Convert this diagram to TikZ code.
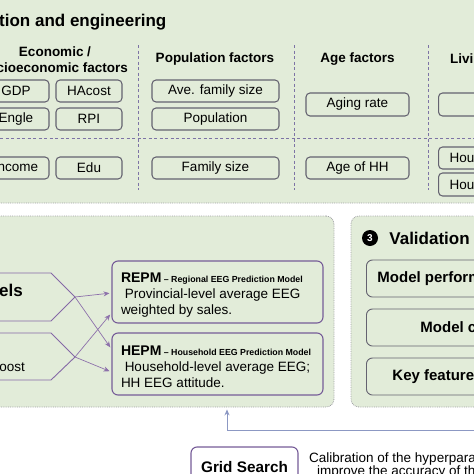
\documentclass[tikz,border=0pt]{standalone}
\usepackage{fontspec}
\setmainfont{Liberation Sans}
\usepackage{tikz}
\usetikzlibrary{arrows.meta, positioning, calc}
\definecolor{PanelGreen}{RGB}{226,236,217}
\definecolor{PanelEdge}{RGB}{160,160,165}
\definecolor{BoxEdge}{RGB}{100,98,112}
\definecolor{GridLine}{RGB}{125,115,165}
\definecolor{ModelEdge}{RGB}{118,92,152}
\definecolor{FlowPurple}{RGB}{112,78,150}
\definecolor{CalibBlue}{RGB}{140,152,195}
\newcommand{\ftitle}{\bfseries\fontsize{17}{20}\selectfont}
\newcommand{\fhead}{\bfseries\fontsize{13.5}{16}\selectfont}
\newcommand{\fplain}{\fontsize{13.5}{16}\selectfont}

\begin{document}
\begin{tikzpicture}[x=1pt, y=-1pt,
    panel/.style={draw=PanelEdge, densely dotted, line width=0.8pt, rounded corners=8pt, fill=PanelGreen},
    txt/.style={inner sep=0pt, font=\fplain},
    featbox/.style={draw=BoxEdge, line width=1.05pt, rounded corners=4pt, fill=PanelGreen, minimum height=22pt, inner sep=0pt, font=\fplain},
    griddash/.style={draw=GridLine, dashed, dash pattern=on 3pt off 2.5pt, line width=0.8pt},
    modelbox/.style={draw=ModelEdge, line width=1.1pt, rounded corners=6pt, fill=PanelGreen, minimum width=211pt, minimum height=62pt, inner xsep=9pt, text width=193pt, align=flush left, font=\fplain},
    valbox/.style={draw=BoxEdge, line width=0.9pt, rounded corners=6pt, fill=PanelGreen, minimum height=37pt, inner sep=0pt, text width=170pt, align=flush left, anchor=west, font=\bfseries\fontsize{15}{18}\selectfont},
    chevron/.style={draw=FlowPurple!85, line width=0.9pt},
    flow/.style={draw=FlowPurple!80, line width=0.7pt, -{Stealth[length=6pt, width=5pt]}, shorten >=2pt},
    calib/.style={draw=CalibBlue, line width=1pt, -{Stealth[length=6pt, width=5pt, fill=CalibBlue!70!blue]}},
    gridbox/.style={draw=ModelEdge, line width=1.1pt, rounded corners=6pt, fill=white, minimum width=107pt, minimum height=40pt, font=\bfseries\fontsize{15.3}{18}\selectfont}
]
    \useasboundingbox (0,0) rectangle (474,474);
    \clip (0,0) rectangle (474,474);

    % panels
    \node[panel, minimum width=520pt, minimum height=218pt] (featpanel) at (237,94) {};
    \node[panel, minimum width=344pt, minimum height=191pt] (buildpanel) at (162,311.5) {};
    \node[panel, minimum width=150pt, minimum height=191pt] (valpanel) at (426,311.5) {};

    % feature panel
    \node[txt, anchor=west, font=\ftitle] (feattitle) at (-1,22) {tion and engineering};
    \draw[griddash] (138,45) -- (138,190);
    \draw[griddash] (294,45) -- (294,190);
    \draw[griddash] (428,45) -- (428,190);
    \draw[griddash] (0,138) -- (474,138);

    \node[txt, font=\fhead] (econhead) at (55,52) {Economic /};
    \node[txt, font=\fhead, anchor=east] (econhead2) at (128,68) {cioeconomic factors};
    \node[txt, font=\fhead] (pophead) at (215,59) {Population factors};
    \node[txt, font=\fhead] (agehead) at (357.5,59) {Age factors};
    \node[txt, font=\fhead, anchor=west] (livhead) at (450,59) {Livi};

    \node[featbox, minimum width=66pt] (gdp) at (16,91) {GDP};
    \node[featbox, minimum width=66pt] (hacost) at (89,91) {HAcost};
    \node[featbox, minimum width=66pt] (engle) at (16,119) {Engle};
    \node[featbox, minimum width=66pt] (rpi) at (89,119) {RPI};
    \node[featbox, minimum width=66pt] (income) at (16,168) {\hphantom{I}ncome};
    \node[featbox, minimum width=66pt] (edu) at (89,168) {Edu};

    \node[featbox, minimum width=127pt] (famsize) at (215.5,91) {Ave. family size};
    \node[featbox, minimum width=127pt] (population) at (215.5,119) {Population};
    \node[featbox, minimum width=127pt] (hhsize) at (215.5,168) {Family size};

    \node[featbox, minimum width=103pt, minimum height=23pt] (aging) at (357.5,104.5) {Aging rate};
    \node[featbox, minimum width=103pt] (hhage) at (357.5,168) {Age of HH};

    \node[featbox, anchor=west, minimum height=23pt, text width=100pt, align=flush left] (living) at (438,104.5) {};
    \node[featbox, anchor=west, text width=100pt, align=flush left] (houseA) at (438,158) {\hspace*{11pt}Hou};
    \node[featbox, anchor=west, minimum height=23pt, text width=100pt, align=flush left] (houseB) at (438,184.5) {\hspace*{11pt}Hou};

    % model building panel
    \draw[chevron] (-20,273) -- (51,273) -- (75,297) coordinate (tipA) -- (51,321) -- (-20,321);
    \draw[chevron] (-20,333) -- (51,333) -- (75,357) coordinate (tipB) -- (51,380) -- (-20,380);
    \node[txt, font=\ftitle, anchor=east] (mlA) at (23,290) {els};
    \node[txt, anchor=east] (mlB) at (25,367) {oost};

    \node[modelbox] (repm) at (217.5,292) {\mbox{\rule{0pt}{16pt}{\bfseries\fontsize{14}{16}\selectfont REPM}{\bfseries\fontsize{8.8}{16}\selectfont\ -- Regional EEG Prediction Model}}\\
        \ Provincial-level average EEG\\
        weighted by sales.};
    \node[modelbox] (hepm) at (217.5,364) {\mbox{\rule{0pt}{16pt}{\bfseries\fontsize{14}{16}\selectfont HEPM}{\bfseries\fontsize{8.8}{16}\selectfont\ -- Household EEG Prediction Model}}\\
        \ Household-level average EEG;\\
        HH EEG attitude.};

    \draw[flow] (tipA) -- ([yshift=-1pt]repm.west);
    \draw[flow] (tipA) -- ([yshift=15pt]hepm.west);
    \draw[flow] (tipB) -- ([yshift=-21pt]repm.west);
    \draw[flow] (tipB) -- ([yshift=-8pt]hepm.west);

    % validation panel
    \node[circle, fill=black, minimum size=16pt, inner sep=0pt, text=white, font=\bfseries\fontsize{10}{12}\selectfont] (stepthree) at (370,238) {3};
    \node[txt, font=\ftitle, right=11pt of stepthree] (valtitle) {Validation};
    \node[valbox] (perf) at (366,278.5) {\hspace*{11pt}Model perform};
    \node[valbox] (compare) at (366,327.5) {\hspace*{54pt}Model c};
    \node[valbox] (keyfeat) at (366,376.5) {\hspace*{26pt}Key feature};

    % grid search
    \node[gridbox] (gridsearch) at (244.5,467) {Grid Search};
    \node[txt, anchor=west] (calibA) at (309,459) {Calibration of the hyperpara};
    \node[txt, anchor=west] (calibB) at (317,472) {improve the accuracy of th};
    \coordinate (calibin) at (480,430);
    \draw[calib] (calibin) -| ([xshift=65pt, yshift=-2pt]buildpanel.south);
\end{tikzpicture}
\end{document}
